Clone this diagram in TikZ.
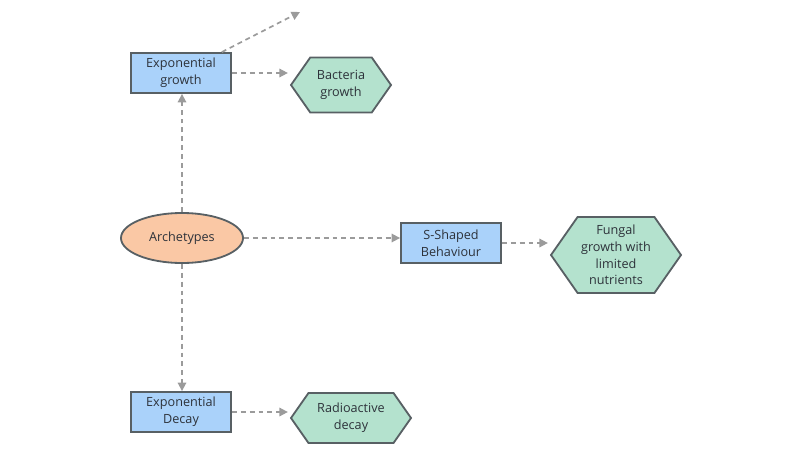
\documentclass[tikz,border=0pt]{standalone}
\usepackage{fontspec}
\setmainfont{Open Sans}
\usetikzlibrary{shapes.geometric,shapes.symbols,arrows.meta}

\definecolor{boxblue}{RGB}{170,210,250}
\definecolor{hexgreen}{RGB}{180,226,206}
\definecolor{peach}{RGB}{250,200,165}
\definecolor{edgegray}{RGB}{88,96,100}
\definecolor{linkgray}{RGB}{155,155,155}
\definecolor{textgray}{RGB}{45,50,58}

\tikzset{
  behavbox/.style={rectangle, draw=edgegray, fill=boxblue, line width=1.3pt,
    minimum width=2.5cm, minimum height=1cm, align=center},
  examplehex/.style={signal, signal to=east and west, signal pointer angle=110,
    draw=edgegray, fill=hexgreen, line width=1.3pt, align=center, inner sep=1pt},
  rootellipse/.style={ellipse, draw=edgegray, fill=peach, line width=1.3pt,
    minimum width=3.05cm, minimum height=1.25cm},
  link/.style={draw=linkgray, line width=1.2pt, dash pattern=on 3.5pt off 2.8pt,
    -{Triangle[width=6pt,length=6pt]}}
}

\begin{document}
\begin{tikzpicture}[x=0.025cm, y=-0.025cm,
  every node/.style={font=\fontsize{9pt}{11.8pt}\selectfont, text=textgray}]

  \useasboundingbox (0,0) rectangle (800,460);

  % --- Root node ---
  \node[rootellipse] (arch) at (182,238) {Archetypes};

  % --- Behaviour boxes ---
  \node[behavbox] (expgrowth) at (181,73) {Exponential\\growth};
  \node[behavbox] (sshaped) at (451,243) {S-Shaped\\Behaviour};
  \node[behavbox] (expdecay) at (181,412) {Exponential\\Decay};

  % --- Example hexagons ---
  \node[examplehex, minimum width=2.5cm, minimum height=1.375cm] (bacteria) at (341,85) {Bacteria\\growth};
  \node[examplehex, minimum width=3.25cm, minimum height=1.9cm] (fungal) at (616,255) {Fungal\\growth with\\limited\\nutrients};
  \node[examplehex, minimum width=3cm, minimum height=1.25cm] (radio) at (351,418) {Radioactive\\decay};

  % --- Free end off the top ---
  \coordinate (offtop) at (300,12);

  % --- Connectors ---
  \draw[link] (arch.north) -- (arch.north |- expgrowth.south);
  \draw[link] (arch.south) -- (arch.south |- expdecay.north);
  \draw[link] (arch.east) -- (arch.east -| sshaped.west);
  \draw[link] (sshaped.east) -- ([xshift=-0.05cm]sshaped.east -| fungal.west);
  \draw[link] (expgrowth.east) -- ([xshift=-0.05cm]expgrowth.east -| bacteria.west);
  \draw[link] (expdecay.east) -- ([xshift=-0.05cm]expdecay.east -| radio.west);
  \draw[link] (expgrowth) -- (offtop);

\end{tikzpicture}
\end{document}
